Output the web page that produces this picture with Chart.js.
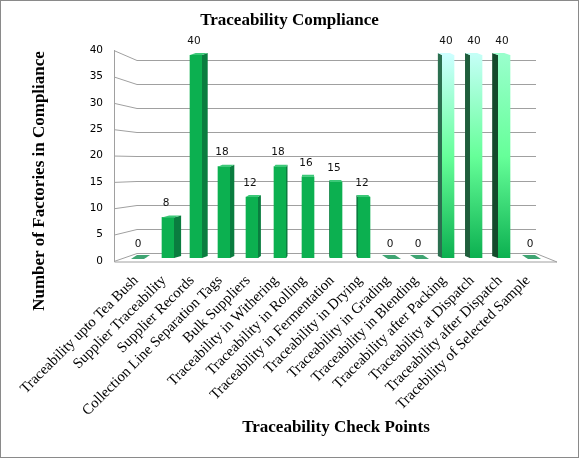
<!DOCTYPE html>
<html>
<head>
<meta charset="utf-8">
<script src="https://cdn.jsdelivr.net/npm/chart.js@4.4.1/dist/chart.umd.min.js"></script>
<style>
  html, body { margin: 0; padding: 0; background: #fff; }
  #wrap { width: 579px; height: 458px; position: relative; }
</style>
</head>
<body>
<div id="wrap"><canvas id="trace-chart"></canvas></div>
<script>
const checkPoints = [
  "Traceability upto Tea Bush",
  "Supplier Traceability",
  "Supplier Records",
  "Collection Line Separation Tags",
  "Bulk Suppliers",
  "Traceability in Withering",
  "Traceability in Rolling",
  "Traceability in Fermentation",
  "Traceability in Drying",
  "Traceability in Grading",
  "Traceability in Blending",
  "Traceability after Packing",
  "Traceability at Dispatch",
  "Traceability after Dispatch",
  "Tracebility of Selected Sample"
];
const factoryCounts = [0, 8, 40, 18, 12, 18, 16, 15, 12, 0, 0, 40, 40, 40, 0];
const yTicks = [0, 5, 10, 15, 20, 25, 30, 35, 40];

const SERIF = "'Liberation Serif', 'DejaVu Serif', serif";
const SANS = "'DejaVu Sans', Verdana, sans-serif";
const GREEN = '#0cb050';

// the 3d wall: front edge sits a bit outside the bar scale, back edge a bit inside
function frontY(y, v) {
  const b = y.getPixelForValue(0);
  return b + 3 + (y.getPixelForValue(v) - b) * 1.039;
}
function backY(y, v) {
  const b = y.getPixelForValue(0);
  return b - 5 + (y.getPixelForValue(v) - b) * 0.951;
}

// the three last bars get the light gradient look
function isGlow(i) { return i >= 11 && i <= 13; }
const glowTops = { 11: '#ccffff', 12: '#c4fff6', 13: '#99ffcc' };
const glowSides = { 11: '#2c6f50', 12: '#1f5e3c', 13: '#144a2b' };

const wallPlugin = {
  id: 'wall',
  beforeDatasetsDraw(chart) {
    const { ctx, chartArea: a, scales: { y } } = chart;
    const xf = a.left - 12, xb = a.left + 11, xr = a.right - 10;
    ctx.save();
    ctx.strokeStyle = '#a0a0a0';
    ctx.lineWidth = 1;
    yTicks.forEach(v => {
      ctx.beginPath();
      ctx.moveTo(xf, frontY(y, v) + 0.5);
      ctx.lineTo(xb, Math.round(backY(y, v)) + 0.5);
      ctx.lineTo(xr, Math.round(backY(y, v)) + 0.5);
      ctx.stroke();
    });
    ctx.beginPath();
    ctx.moveTo(xf + 0.5, frontY(y, 40));
    ctx.lineTo(xf + 0.5, frontY(y, 0) + 1);
    ctx.lineTo(a.right + 11, frontY(y, 0) + 1);
    ctx.lineTo(xr, Math.round(backY(y, 0)) + 0.5);
    ctx.stroke();

    ctx.fillStyle = '#000';
    ctx.font = '10.5px ' + SANS;
    ctx.textAlign = 'right';
    ctx.textBaseline = 'middle';
    yTicks.forEach(v => ctx.fillText(String(v), a.left - 23, frontY(y, v)));
    ctx.restore();
  },
  afterDatasetsDraw(chart) {
    const { ctx, chartArea: a } = chart;
    const mid = a.left + 184;
    const meta = chart.getDatasetMeta(0);
    ctx.save();
    meta.data.forEach((bar, i) => {
      const v = factoryCounts[i];
      const cx = bar.x, half = bar.width / 2, base = bar.base;
      const leftSide = cx < mid;
      if (v === 0) {
        ctx.fillStyle = '#3fa472';
        ctx.beginPath();
        if (leftSide) {
          ctx.moveTo(cx - 9, base + 1); ctx.lineTo(cx + 4, base + 1);
          ctx.lineTo(cx + 10, base - 3); ctx.lineTo(cx - 3, base - 3);
        } else {
          ctx.moveTo(cx - 10, base - 3); ctx.lineTo(cx + 3, base - 3);
          ctx.lineTo(cx + 9, base + 1); ctx.lineTo(cx - 4, base + 1);
        }
        ctx.fill();
      } else {
        const s = leftSide ? (mid - cx) * 0.05 : (cx - mid) * 0.03;
        const top = bar.y;
        if (s > 0.4) {
          ctx.fillStyle = isGlow(i) ? glowSides[i] : '#0a7d3f';
          ctx.beginPath();
          if (leftSide) {
            ctx.moveTo(cx + half, top); ctx.lineTo(cx + half + s, top - 2);
            ctx.lineTo(cx + half + s, base - 2); ctx.lineTo(cx + half, base);
          } else {
            ctx.moveTo(cx - half, top); ctx.lineTo(cx - half - s, top - 2);
            ctx.lineTo(cx - half - s, base - 2); ctx.lineTo(cx - half, base);
          }
          ctx.fill();
        }
        ctx.fillStyle = isGlow(i) ? glowTops[i] : '#3cc878';
        ctx.beginPath();
        const d = leftSide ? s : -s;
        ctx.moveTo(cx - half, top); ctx.lineTo(cx + half, top);
        ctx.lineTo(cx + half + d, top - 2); ctx.lineTo(cx - half + d, top - 2);
        ctx.fill();
      }
      ctx.fillStyle = '#111';
      ctx.font = '10.5px ' + SANS;
      ctx.textAlign = 'center';
      ctx.textBaseline = 'middle';
      ctx.fillText(String(v), cx - 2, (v === 0 ? base : bar.y) - 14);
    });
    ctx.restore();
  },
  afterDraw(chart) {
    const { ctx, width, height } = chart;
    ctx.save();
    ctx.fillStyle = '#000';
    ctx.font = 'bold 17px ' + SERIF;
    ctx.textAlign = 'center';
    ctx.textBaseline = 'middle';
    ctx.fillText('Traceability Compliance', width / 2, 21);
    ctx.translate(40, 181);
    ctx.rotate(-Math.PI / 2);
    ctx.fillText('Number of Factories in Compliance', 0, 0);
    ctx.restore();
    ctx.save();
    ctx.strokeStyle = '#8a8a8a';
    ctx.lineWidth = 1;
    ctx.strokeRect(0.5, 0.5, width - 1, height - 1);
    ctx.restore();
  }
};

new Chart(document.getElementById('trace-chart'), {
  type: 'bar',
  data: {
    labels: checkPoints,
    datasets: [{
      data: factoryCounts,
      barThickness: 12,
      borderWidth: 0,
      backgroundColor(c) {
        const i = c.dataIndex;
        const { ctx, chartArea } = c.chart;
        if (!chartArea || !isGlow(i)) return GREEN;
        const g = ctx.createLinearGradient(0, chartArea.top, 0, chartArea.bottom);
        g.addColorStop(0, glowTops[i]);
        g.addColorStop(0.5, '#66ff99');
        g.addColorStop(1, GREEN);
        return g;
      }
    }]
  },
  options: {
    responsive: true,
    maintainAspectRatio: false,
    animation: false,
    layout: { padding: { top: 55, left: 0, right: 33, bottom: 20 } },
    plugins: {
      legend: { display: false },
      tooltip: { enabled: false },
      title: { display: false }
    },
    scales: {
      x: {
        grid: { display: false, drawTicks: false },
        border: { display: false },
        ticks: {
          autoSkip: false,
          maxRotation: 45,
          minRotation: 45,
          padding: 14,
          labelOffset: -4,
          color: '#000',
          font: { family: SERIF, size: 14.8 }
        },
        title: {
          display: true,
          text: 'Traceability Check Points',
          color: '#000',
          font: { family: SERIF, size: 17, weight: 'bold' },
          padding: 0
        },
        afterFit(scale) { scale.height = 180; }
      },
      y: {
        min: 0,
        max: 40,
        grid: { display: false },
        border: { display: false },
        ticks: { display: false, stepSize: 5 },
        afterFit(scale) { scale.width = 126; }
      }
    }
  },
  plugins: [wallPlugin]
});
</script>
</body>
</html>
